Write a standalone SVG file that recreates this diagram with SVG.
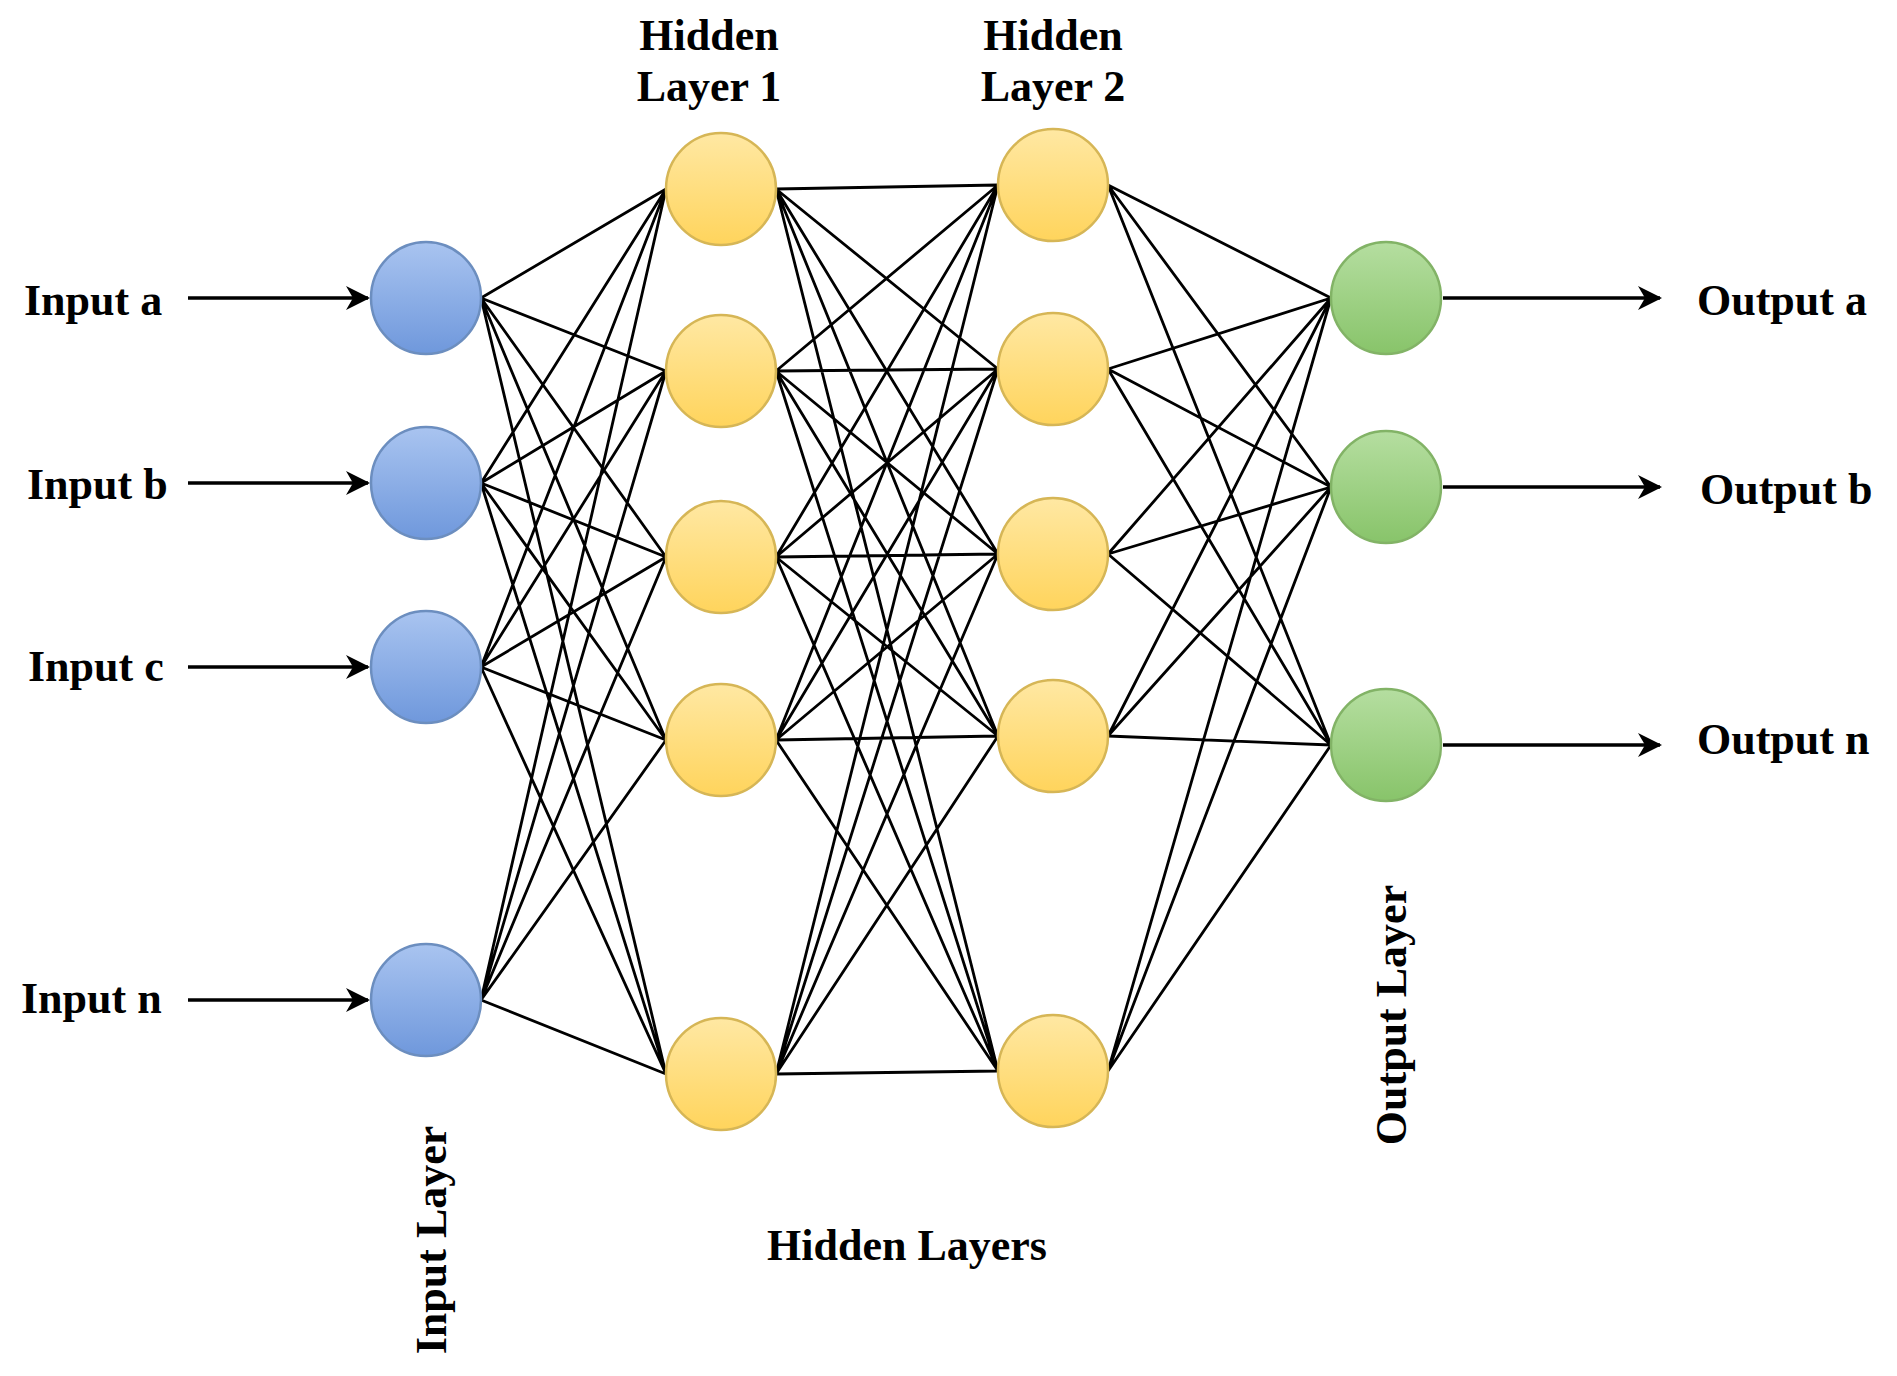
<svg xmlns="http://www.w3.org/2000/svg" width="1897" height="1376" viewBox="0 0 1897 1376">
<defs>
<linearGradient id="gb" x1="0" y1="0" x2="0" y2="1"><stop offset="0" stop-color="#a9c4f0"/><stop offset="1" stop-color="#6f98dc"/></linearGradient>
<linearGradient id="gy" x1="0" y1="0" x2="0" y2="1"><stop offset="0" stop-color="#ffe8a3"/><stop offset="1" stop-color="#ffd45c"/></linearGradient>
<linearGradient id="gg" x1="0" y1="0" x2="0" y2="1"><stop offset="0" stop-color="#b5dea0"/><stop offset="1" stop-color="#88c46a"/></linearGradient>
<marker id="ar" viewBox="0 0 24 24" refX="22" refY="12" markerWidth="24" markerHeight="24" orient="auto" markerUnits="userSpaceOnUse"><path d="M0,0 L24,12 L0,24 L7,12 Z" fill="#000"/></marker>
<style>
.t{font-family:"Liberation Serif",serif;font-weight:bold;font-size:44px;fill:#000}
.c{stroke:#000;stroke-width:2.8;fill:none}
.a{stroke:#000;stroke-width:3.5;fill:none}
.in{fill:url(#gb);stroke:#6c8ebf;stroke-width:2.5}
.hd{fill:url(#gy);stroke:#d6b656;stroke-width:2.5}
.out{fill:url(#gg);stroke:#82b366;stroke-width:2.5}
</style>
</defs>
<rect width="1897" height="1376" fill="#fff"/>
<g id="connectors">
<path class="c" d="M481,298L666,189M481,298L666,371M481,298L666,557M481,298L666,740M481,298L666,1074
M481,483L666,189M481,483L666,371M481,483L666,557M481,483L666,740M481,483L666,1074
M481,667L666,189M481,667L666,371M481,667L666,557M481,667L666,740M481,667L666,1074
M481,1000L666,189M481,1000L666,371M481,1000L666,557M481,1000L666,740M481,1000L666,1074"/>
<path class="c" d="M776,189L998,185M776,189L998,369M776,189L998,554M776,189L998,736M776,189L998,1071
M776,371L998,185M776,371L998,369M776,371L998,554M776,371L998,736M776,371L998,1071
M776,557L998,185M776,557L998,369M776,557L998,554M776,557L998,736M776,557L998,1071
M776,740L998,185M776,740L998,369M776,740L998,554M776,740L998,736M776,740L998,1071
M776,1074L998,185M776,1074L998,369M776,1074L998,554M776,1074L998,736M776,1074L998,1071"/>
<path class="c" d="M1108,185L1331,298M1108,185L1331,487M1108,185L1331,745
M1108,369L1331,298M1108,369L1331,487M1108,369L1331,745
M1108,554L1331,298M1108,554L1331,487M1108,554L1331,745
M1108,736L1331,298M1108,736L1331,487M1108,736L1331,745
M1108,1071L1331,298M1108,1071L1331,487M1108,1071L1331,745"/>
<line class="a" x1="188" y1="298" x2="368" y2="298" marker-end="url(#ar)"/>
<line class="a" x1="188" y1="483" x2="368" y2="483" marker-end="url(#ar)"/>
<line class="a" x1="188" y1="667" x2="368" y2="667" marker-end="url(#ar)"/>
<line class="a" x1="188" y1="1000" x2="368" y2="1000" marker-end="url(#ar)"/>
<line class="a" x1="1443" y1="298" x2="1660" y2="298" marker-end="url(#ar)"/>
<line class="a" x1="1443" y1="487" x2="1660" y2="487" marker-end="url(#ar)"/>
<line class="a" x1="1443" y1="745" x2="1660" y2="745" marker-end="url(#ar)"/>
</g>
<g id="in-a"><ellipse class="in" cx="426" cy="298" rx="55" ry="56"/></g>
<g id="in-b"><ellipse class="in" cx="426" cy="483" rx="55" ry="56"/></g>
<g id="in-c"><ellipse class="in" cx="426" cy="667" rx="55" ry="56"/></g>
<g id="in-n"><ellipse class="in" cx="426" cy="1000" rx="55" ry="56"/></g>
<g id="h1-1"><ellipse class="hd" cx="721" cy="189" rx="55" ry="56"/></g>
<g id="h1-2"><ellipse class="hd" cx="721" cy="371" rx="55" ry="56"/></g>
<g id="h1-3"><ellipse class="hd" cx="721" cy="557" rx="55" ry="56"/></g>
<g id="h1-4"><ellipse class="hd" cx="721" cy="740" rx="55" ry="56"/></g>
<g id="h1-5"><ellipse class="hd" cx="721" cy="1074" rx="55" ry="56"/></g>
<g id="h2-1"><ellipse class="hd" cx="1053" cy="185" rx="55" ry="56"/></g>
<g id="h2-2"><ellipse class="hd" cx="1053" cy="369" rx="55" ry="56"/></g>
<g id="h2-3"><ellipse class="hd" cx="1053" cy="554" rx="55" ry="56"/></g>
<g id="h2-4"><ellipse class="hd" cx="1053" cy="736" rx="55" ry="56"/></g>
<g id="h2-5"><ellipse class="hd" cx="1053" cy="1071" rx="55" ry="56"/></g>
<g id="out-a"><ellipse class="out" cx="1386" cy="298" rx="55" ry="56"/></g>
<g id="out-b"><ellipse class="out" cx="1386" cy="487" rx="55" ry="56"/></g>
<g id="out-n"><ellipse class="out" cx="1386" cy="745" rx="55" ry="56"/></g>
<g id="labels">
<text class="t" x="24" y="315">Input a</text>
<text class="t" x="27" y="499">Input b</text>
<text class="t" x="28" y="681">Input c</text>
<text class="t" x="21" y="1013">Input n</text>
<text class="t" x="1697" y="315">Output a</text>
<text class="t" x="1700" y="504">Output b</text>
<text class="t" x="1697" y="754">Output n</text>
<text class="t" x="709" y="50" text-anchor="middle">Hidden</text>
<text class="t" x="709" y="101" text-anchor="middle">Layer 1</text>
<text class="t" x="1053" y="50" text-anchor="middle">Hidden</text>
<text class="t" x="1053" y="101" text-anchor="middle">Layer 2</text>
<text class="t" x="907" y="1260" text-anchor="middle">Hidden Layers</text>
<text class="t" text-anchor="middle" transform="translate(446,1240) rotate(-90)">Input Layer</text>
<text class="t" text-anchor="middle" transform="translate(1406,1015) rotate(-90)">Output Layer</text>
</g>
</svg>
